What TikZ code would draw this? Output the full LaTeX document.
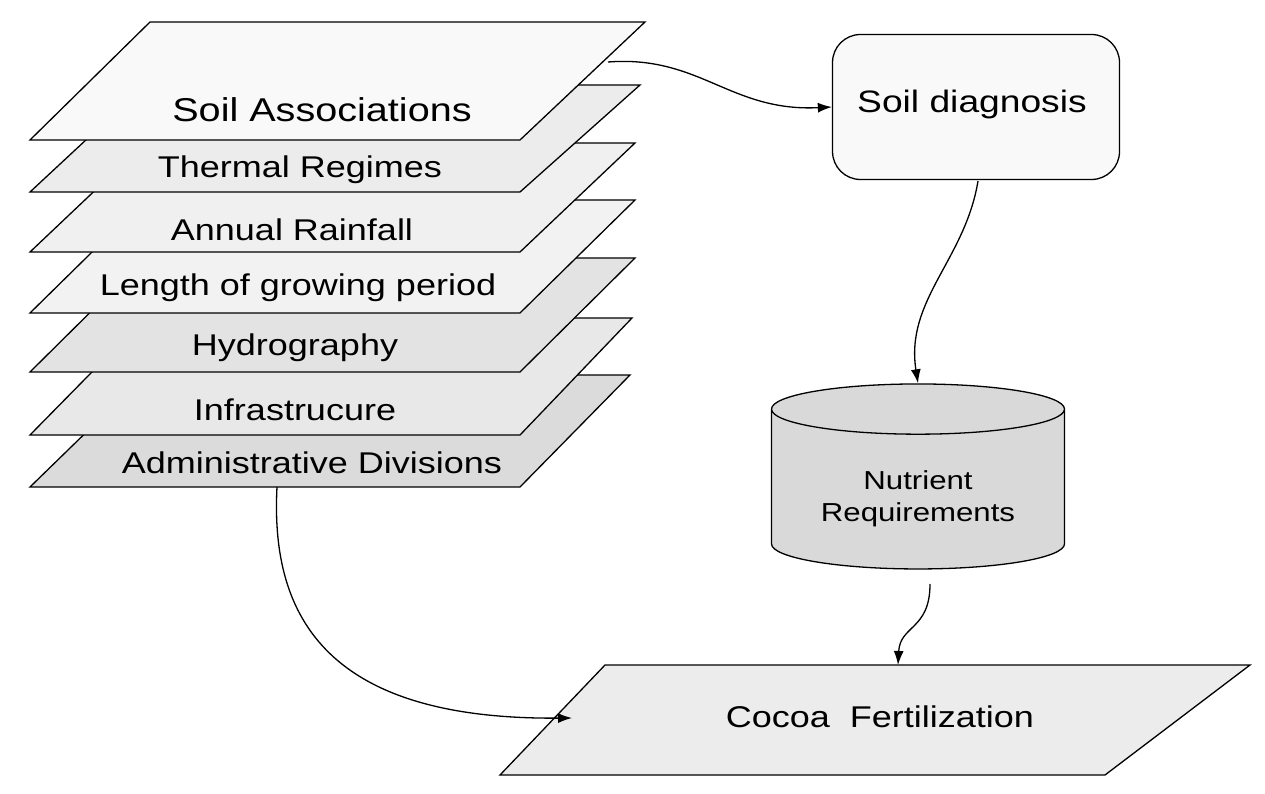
\documentclass[tikz,border=0pt]{standalone}
\usepackage{fontspec}
\setmainfont{Liberation Sans}[FakeStretch=1.2]
\usetikzlibrary{shapes.geometric,arrows.meta}
\begin{document}
\begin{tikzpicture}[x=1pt,y=-1pt,
  lay/.style={draw=black,line width=1.3pt,line join=miter},
  lbl/.style={font=\fontsize{30}{34}\selectfont},
  arr/.style={line width=1.3pt,-{Latex[length=14pt,width=10pt]}}]
\useasboundingbox (0,0) rectangle (1265,794);
% layers bottom to top
\path[lay,fill=gray!28] (30,487) -- (145,375) -- (630,375) -- (520,487) -- cycle;
\node[lbl] (adm) at (312,463) {Administrative Divisions};
\path[lay,fill=gray!18] (30,435) -- (145,318) -- (632,318) -- (520,435) -- cycle;
\node[lbl] (inf) at (295,410) {Infrastrucure};
\path[lay,fill=gray!22] (30,372) -- (145,258) -- (635,258) -- (520,372) -- cycle;
\node[lbl] (hyd) at (295,348) {Hydrography};
\path[lay,fill=gray!10] (30,313) -- (145,200) -- (635,200) -- (520,313) -- cycle;
\node[lbl] (len) at (298,288) {Length of growing period};
\path[lay,fill=gray!12] (30,252) -- (145,143) -- (635,143) -- (520,252) -- cycle;
\node[lbl] (ann) at (292,230) {Annual Rainfall};
\path[lay,fill=gray!15] (30,192) -- (145,85) -- (640,85) -- (520,192) -- cycle;
\node[lbl] (the) at (300,170) {Thermal Regimes};
\path[lay,fill=gray!5] (30,140) -- (150,22) -- (645,22) -- (520,140) -- cycle;
\node[font=\fontsize{33}{36}\selectfont] (soil) at (322,110) {Soil Associations};
\coordinate (soilR) at (608,62);
\coordinate (admB) at (277,487);
% soil diagnosis
\node[draw,line width=1.3pt,rounded corners=28pt,fill=gray!5,minimum width=287pt,minimum height=145pt] (diag) at (976,107) {};
\node[font=\fontsize{31}{34}\selectfont] at (972,104) {Soil diagnosis};
% cylinder
\node[draw,line width=1.3pt,cylinder,shape border rotate=90,aspect=0.25,fill=gray!30,minimum width=293pt,minimum height=185pt,align=center,font=\fontsize{26}{32}\selectfont] (nut) at (918,492) {\\Nutrient\\Requirements};
% cocoa
\path[lay,fill=gray!15] (500,775) -- (605,665) -- (1250,665) -- (1105,775) -- cycle;
\node[lbl] (coc) at (880,717) {Cocoa\ \ Fertilization};
\coordinate (cocT) at (898,665);
\coordinate (cocL) at (572,718);
% arrows
\draw[arr] (soilR) .. controls (700,55) and (730,112) .. (diag.west);
\draw[arr] (978,181) .. controls (965,260) and (905,300) .. (nut.top);
\draw[arr] (930,584) .. controls (930,630) and (900,625) .. (cocT);
\draw[arr] (admB) .. controls (270,620) and (330,720) .. (cocL);
\end{tikzpicture}
\end{document}
